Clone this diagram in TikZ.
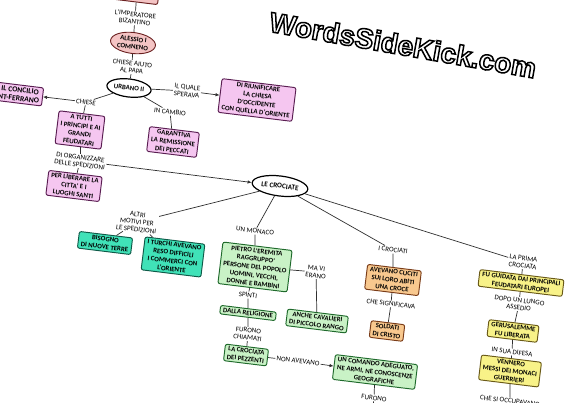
\documentclass[tikz,border=0pt]{standalone}
\usepackage{fontspec}
\setmainfont{Carlito}
\newfontfamily\wmfont{Liberation Sans}
\usetikzlibrary{shapes.geometric,arrows.meta}
\definecolor{vfill}{HTML}{F5C6F0}
\definecolor{vline}{HTML}{5A1E52}
\definecolor{sfill}{HTML}{F4C4C4}
\definecolor{sline}{HTML}{6A2020}
\definecolor{tfill}{HTML}{40E2B8}
\definecolor{tline}{HTML}{0E5A48}
\definecolor{gfill}{HTML}{C9F2C6}
\definecolor{gline}{HTML}{1F6A2C}
\definecolor{ofill}{HTML}{F8C88E}
\definecolor{oline}{HTML}{7A3C18}
\definecolor{yfill}{HTML}{F8F288}
\definecolor{yline}{HTML}{6A5A18}
\definecolor{linec}{HTML}{303030}
\newcommand{\outlinetext}[1]{\special{pdf:literal direct 1 Tr 1.5 w}#1\special{pdf:literal direct 0 Tr}}
\begin{document}
\begin{tikzpicture}[x=1pt,y=-1pt,
  cbox/.style={draw, rounded corners=2pt, line width=0.95pt, align=center, rotate=-7,
    inner xsep=3pt, inner ysep=2pt, font=\bfseries\fontsize{6.8}{8.2}\selectfont},
  vbox/.style={cbox, fill=vfill, draw=vline},
  tbox/.style={cbox, fill=tfill, draw=tline},
  gbox/.style={cbox, fill=gfill, draw=gline},
  obox/.style={cbox, fill=ofill, draw=oline},
  ybox/.style={cbox, fill=yfill, draw=yline},
  ell/.style={ellipse, draw, line width=1.2pt, fill=white, align=center, rotate=-7,
    inner sep=0.5pt, font=\bfseries\fontsize{6.8}{7.6}\selectfont},
  lbl/.style={align=center, rotate=-7, inner sep=1pt, font=\fontsize{7}{7.4}\selectfont},
  conn/.style={draw=linec, line width=0.7pt},
  arr/.style={conn, -{Latex[length=4pt,width=3.5pt]}}
]
\useasboundingbox (0,0) rectangle (569,403);
\clip (0,0) rectangle (569,403);
\fill[white] (0,0) rectangle (569,403);

% watermark
\node[rotate=-10, inner sep=0pt, text=black, font=\wmfont\bfseries\fontsize{28}{28}\selectfont] (wm) at (403,45)
  {\outlinetext{WordsSideKick.com}};

% nodes
\node[cbox, fill=sfill, draw=sline, minimum width=44pt, minimum height=22pt] (top) at (137,-9) {};
\node[lbl] (imp) at (135,18) {L'IMPERATORE\\BIZANTINO};
\node[ell, fill=sfill, draw=sline, line width=0.9pt, minimum width=40pt, minimum height=21pt] (alessio) at (133,43) {ALESSIO I\\COMNENO};
\node[lbl] (aiuto) at (132,67) {CHIESE AIUTO\\AL PAPA};
\node[ell, minimum width=43pt, minimum height=18pt] (urbano) at (129,88) {URBANO II};
\node[lbl] (quale) at (187,91) {IL QUALE\\SPERAVA};
\node[vbox] (riun) at (257,100) {DI RIUNIFICARE\\LA CHIESA\\D'OCCIDENTE\\CON QUELLA D'ORIENTE};
\node[lbl] (cambio) at (170,112) {IN CAMBIO};
\node[vbox] (garant) at (173,142) {GARANTIVA\\LA REMISSIONE\\DEI PECCATI};
\node[lbl] (chiese) at (86,102) {CHIESE};
\node[vbox, anchor=east, font=\bfseries\fontsize{7.6}{8.6}\selectfont] (concilio) at (43,97) {CONVOCO' IL CONCILIO\\DI CLERMONT-FERRANO};
\node[vbox] (atutti) at (80,130) {A TUTTI\\I PRINCIPI E AI\\GRANDI\\FEUDATARI};
\node[lbl] (organ) at (80,161) {DI ORGANIZZARE\\DELLE SPEDIZIONI};
\node[vbox] (liber) at (74,186) {PER LIBERARE LA\\CITTA' E I\\LUOGHI SANTI};

\node[ell, minimum width=56pt, minimum height=20pt, font=\bfseries\fontsize{7.2}{7.6}\selectfont] (crociate) at (280,186) {LE CROCIATE};

\node[lbl] (altri) at (137,222) {ALTRI\\MOTIVI PER\\LE SPEDIZIONI};
\node[tbox] (bisogno) at (105,243) {BISOGNO\\DI NUOVE TERRE};
\node[tbox] (turchi) at (173,257) {I TURCHI AVEVANO\\RESO DIFFICILI\\I COMMERCI CON\\L'ORIENTE};

\node[lbl] (monaco) at (255,231) {UN MONACO};
\node[gbox] (pietro) at (255,267) {PIETRO L'EREMITA\\RAGGRUPPO'\\PERSONE DEL POPOLO\\UOMINI, VECCHI,\\DONNE E BAMBINI};
\node[lbl] (mavi) at (316,272) {MA VI\\ERANO};
\node[gbox] (anche) at (317,321) {ANCHE CAVALIERI\\DI PICCOLO RANGO};
\node[lbl] (spinti) at (248,295) {SPINTI};
\node[gbox] (relig) at (248,313) {DALLA RELIGIONE};
\node[lbl] (chiamati) at (248,334) {FURONO\\CHIAMATI};
\node[gbox] (pezz) at (246,355) {LA CROCIATA\\DEI PEZZENTI};
\node[lbl] (nonav) at (298,361) {NON AVEVANO};
\node[gbox] (comando) at (375,372) {UN COMANDO ADEGUATO,\\NE ARMI, NE CONOSCENZE\\GEOGRAFICHE};
\node[lbl] (furono) at (374,398) {FURONO};
\coordinate (furonoend) at (372,415);

\node[lbl] (icroc) at (393,250) {I CROCIATI};
\node[obox] (cuciti) at (393,280) {AVEVANO CUCITI\\SUI LORO ABITI\\UNA CROCE};
\node[lbl] (signif) at (391,304) {CHE SIGNIFICAVA};
\node[obox] (soldati) at (387,331) {SOLDATI\\DI CRISTO};

\node[lbl] (prima) at (523,262) {LA PRIMA\\CROCIATA};
\node[ybox] (guidata) at (521,283) {FU GUIDATA DAI PRINCIPALI\\FEUDATARI EUROPEI};
\node[lbl] (assedio) at (519,304) {DOPO UN LUNGO\\ASSEDIO};
\node[ybox] (gerus) at (513,331) {GERUSALEMME\\FU LIBERATA};
\node[lbl] (difesa) at (512,352) {IN SUA DIFESA};
\node[ybox] (vennero) at (510,371) {VENNERO\\MESSI DEI MONACI\\GUERRIERI};
\node[lbl] (occup) at (510,401) {CHE SI OCCUPAVANO};

% connectors
\draw[conn] (top) -- (imp);
\draw[conn] (imp) -- (alessio);
\draw[conn] (alessio) -- (aiuto);
\draw[conn] (aiuto) -- (urbano);
\draw[conn] (urbano) -- (quale);
\draw[arr] (quale) -- (riun);
\draw[conn] (urbano) -- (cambio);
\draw[conn] (cambio) -- (garant);
\draw[conn] (urbano) -- (chiese);
\draw[arr] (chiese) -- (concilio);
\draw[conn] (chiese) -- (atutti);
\draw[conn] (atutti) -- (organ);
\draw[conn] (organ) -- (liber);
\draw[arr] (organ) -- (crociate);

\draw[conn] (crociate) -- (altri);
\draw[conn] (altri) -- (bisogno);
\draw[conn] (altri) -- (turchi);

\draw[conn] (crociate) -- (monaco);
\draw[conn] (monaco) -- (pietro);
\draw[conn] (pietro) -- (mavi);
\draw[conn] (mavi) -- (anche);
\draw[conn] (pietro) -- (spinti);
\draw[conn] (spinti) -- (relig);
\draw[conn] (relig) -- (chiamati);
\draw[conn] (chiamati) -- (pezz);
\draw[conn] (pezz) -- (nonav);
\draw[arr] (nonav) -- (comando);
\draw[conn] (comando) -- (furono);
\draw[conn] (furono) -- (furonoend);

\draw[conn] (crociate) -- (icroc);
\draw[conn] (icroc) -- (cuciti);
\draw[conn] (cuciti) -- (signif);
\draw[conn] (signif) -- (soldati);

\draw[conn] (crociate) -- (prima);
\draw[conn] (prima) -- (guidata);
\draw[conn] (guidata) -- (assedio);
\draw[conn] (assedio) -- (gerus);
\draw[conn] (gerus) -- (difesa);
\draw[conn] (difesa) -- (vennero);
\draw[conn] (vennero) -- (occup);
\end{tikzpicture}
\end{document}
